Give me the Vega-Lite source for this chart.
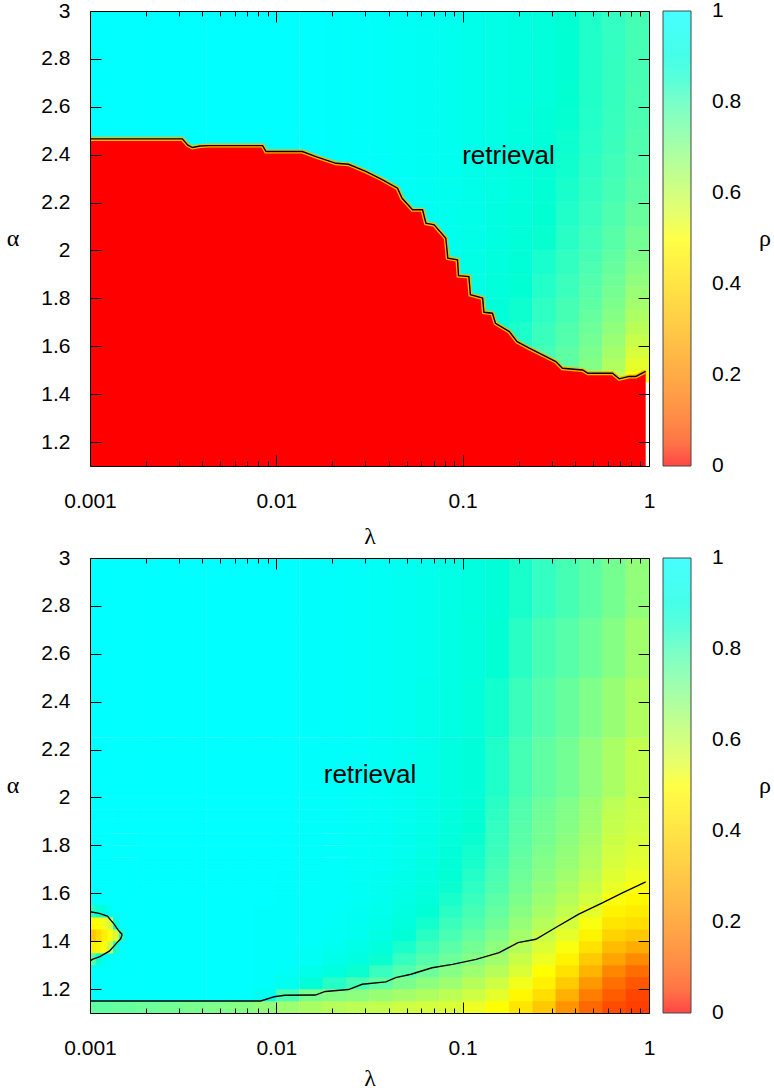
{
"$schema":"https://vega.github.io/schema/vega-lite/v6.json",
"padding":{"left":6,"top":0,"right":0,"bottom":0},
"background":"white",
"bounds":"flush",
"spacing":92,
"config":{
 "view":{"stroke":null},
 "axis":{"zindex":1,"grid":false,"domain":false,"domainColor":"black","domainWidth":1,"tickColor":"black","tickWidth":1,"labelFont":"Liberation Sans","labelFontSize":21,"labelColor":"black","titleFont":"Liberation Serif","titleFontSize":24,"titleFontWeight":"normal","titleColor":"black","labelFlush":false,"labelOverlap":false}
},
"datasets":{
"t":[
{"x":0.00115,"y":2.45,"v":1},{"x":0.00115,"y":2.55,"v":1},{"x":0.00115,"y":2.65,"v":1},{"x":0.00115,"y":2.75,"v":1},{"x":0.00115,"y":2.85,"v":1},{"x":0.00115,"y":2.95,"v":1},
{"x":0.00154,"y":2.45,"v":1},{"x":0.00154,"y":2.55,"v":1},{"x":0.00154,"y":2.65,"v":1},{"x":0.00154,"y":2.75,"v":1},{"x":0.00154,"y":2.85,"v":1},{"x":0.00154,"y":2.95,"v":1},
{"x":0.00205,"y":2.45,"v":1},{"x":0.00205,"y":2.55,"v":1},{"x":0.00205,"y":2.65,"v":1},{"x":0.00205,"y":2.75,"v":1},{"x":0.00205,"y":2.85,"v":1},{"x":0.00205,"y":2.95,"v":1},
{"x":0.00274,"y":2.45,"v":1},{"x":0.00274,"y":2.55,"v":1},{"x":0.00274,"y":2.65,"v":1},{"x":0.00274,"y":2.75,"v":1},{"x":0.00274,"y":2.85,"v":1},{"x":0.00274,"y":2.95,"v":1},
{"x":0.00365,"y":2.45,"v":1},{"x":0.00365,"y":2.55,"v":1},{"x":0.00365,"y":2.65,"v":1},{"x":0.00365,"y":2.75,"v":1},{"x":0.00365,"y":2.85,"v":1},{"x":0.00365,"y":2.95,"v":1},
{"x":0.00487,"y":2.45,"v":1},{"x":0.00487,"y":2.55,"v":1},{"x":0.00487,"y":2.65,"v":1},{"x":0.00487,"y":2.75,"v":1},{"x":0.00487,"y":2.85,"v":1},{"x":0.00487,"y":2.95,"v":1},
{"x":0.00649,"y":2.45,"v":1},{"x":0.00649,"y":2.55,"v":1},{"x":0.00649,"y":2.65,"v":1},{"x":0.00649,"y":2.75,"v":1},{"x":0.00649,"y":2.85,"v":1},{"x":0.00649,"y":2.95,"v":1},
{"x":0.00866,"y":2.45,"v":1},{"x":0.00866,"y":2.55,"v":1},{"x":0.00866,"y":2.65,"v":1},{"x":0.00866,"y":2.75,"v":1},{"x":0.00866,"y":2.85,"v":1},{"x":0.00866,"y":2.95,"v":1},
{"x":0.0115,"y":2.45,"v":1},{"x":0.0115,"y":2.55,"v":1},{"x":0.0115,"y":2.65,"v":1},{"x":0.0115,"y":2.75,"v":1},{"x":0.0115,"y":2.85,"v":1},{"x":0.0115,"y":2.95,"v":1},
{"x":0.0154,"y":2.35,"v":1},{"x":0.0154,"y":2.45,"v":1},{"x":0.0154,"y":2.55,"v":1},{"x":0.0154,"y":2.65,"v":1},{"x":0.0154,"y":2.75,"v":1},{"x":0.0154,"y":2.85,"v":1},{"x":0.0154,"y":2.95,"v":1},
{"x":0.0205,"y":2.35,"v":0.99},{"x":0.0205,"y":2.45,"v":0.99},{"x":0.0205,"y":2.55,"v":0.99},{"x":0.0205,"y":2.65,"v":0.99},{"x":0.0205,"y":2.75,"v":0.99},{"x":0.0205,"y":2.85,"v":0.99},{"x":0.0205,"y":2.95,"v":0.99},
{"x":0.0274,"y":2.35,"v":0.98},{"x":0.0274,"y":2.45,"v":0.98},{"x":0.0274,"y":2.55,"v":0.98},{"x":0.0274,"y":2.65,"v":0.98},{"x":0.0274,"y":2.75,"v":0.98},{"x":0.0274,"y":2.85,"v":0.98},{"x":0.0274,"y":2.95,"v":0.98},
{"x":0.0365,"y":2.25,"v":0.975},{"x":0.0365,"y":2.35,"v":0.975},{"x":0.0365,"y":2.45,"v":0.975},{"x":0.0365,"y":2.55,"v":0.975},{"x":0.0365,"y":2.65,"v":0.975},{"x":0.0365,"y":2.75,"v":0.975},{"x":0.0365,"y":2.85,"v":0.975},{"x":0.0365,"y":2.95,"v":0.975},
{"x":0.0487,"y":2.15,"v":0.965},{"x":0.0487,"y":2.25,"v":0.965},{"x":0.0487,"y":2.35,"v":0.965},{"x":0.0487,"y":2.45,"v":0.965},{"x":0.0487,"y":2.55,"v":0.965},{"x":0.0487,"y":2.65,"v":0.965},{"x":0.0487,"y":2.75,"v":0.965},{"x":0.0487,"y":2.85,"v":0.965},{"x":0.0487,"y":2.95,"v":0.965},
{"x":0.0649,"y":2.05,"v":0.95},{"x":0.0649,"y":2.15,"v":0.952},{"x":0.0649,"y":2.25,"v":0.955},{"x":0.0649,"y":2.35,"v":0.955},{"x":0.0649,"y":2.45,"v":0.955},{"x":0.0649,"y":2.55,"v":0.955},{"x":0.0649,"y":2.65,"v":0.955},{"x":0.0649,"y":2.75,"v":0.955},{"x":0.0649,"y":2.85,"v":0.955},{"x":0.0649,"y":2.95,"v":0.955},
{"x":0.0866,"y":1.85,"v":0.931},{"x":0.0866,"y":1.95,"v":0.934},{"x":0.0866,"y":2.05,"v":0.937},{"x":0.0866,"y":2.15,"v":0.939},{"x":0.0866,"y":2.25,"v":0.941},{"x":0.0866,"y":2.35,"v":0.942},{"x":0.0866,"y":2.45,"v":0.943},{"x":0.0866,"y":2.55,"v":0.945},{"x":0.0866,"y":2.65,"v":0.945},{"x":0.0866,"y":2.75,"v":0.945},{"x":0.0866,"y":2.85,"v":0.945},{"x":0.0866,"y":2.95,"v":0.945},
{"x":0.115,"y":1.75,"v":0.904},{"x":0.115,"y":1.85,"v":0.91},{"x":0.115,"y":1.95,"v":0.914},{"x":0.115,"y":2.05,"v":0.918},{"x":0.115,"y":2.15,"v":0.922},{"x":0.115,"y":2.25,"v":0.924},{"x":0.115,"y":2.35,"v":0.926},{"x":0.115,"y":2.45,"v":0.928},{"x":0.115,"y":2.55,"v":0.93},{"x":0.115,"y":2.65,"v":0.93},{"x":0.115,"y":2.75,"v":0.93},{"x":0.115,"y":2.85,"v":0.93},{"x":0.115,"y":2.95,"v":0.93},
{"x":0.154,"y":1.65,"v":0.872},{"x":0.154,"y":1.75,"v":0.881},{"x":0.154,"y":1.85,"v":0.888},{"x":0.154,"y":1.95,"v":0.895},{"x":0.154,"y":2.05,"v":0.9},{"x":0.154,"y":2.15,"v":0.904},{"x":0.154,"y":2.25,"v":0.908},{"x":0.154,"y":2.35,"v":0.91},{"x":0.154,"y":2.45,"v":0.912},{"x":0.154,"y":2.55,"v":0.913},{"x":0.154,"y":2.65,"v":0.915},{"x":0.154,"y":2.75,"v":0.915},{"x":0.154,"y":2.85,"v":0.915},{"x":0.154,"y":2.95,"v":0.915},
{"x":0.205,"y":1.55,"v":0.835},{"x":0.205,"y":1.65,"v":0.847},{"x":0.205,"y":1.75,"v":0.858},{"x":0.205,"y":1.85,"v":0.867},{"x":0.205,"y":1.95,"v":0.875},{"x":0.205,"y":2.05,"v":0.882},{"x":0.205,"y":2.15,"v":0.887},{"x":0.205,"y":2.25,"v":0.891},{"x":0.205,"y":2.35,"v":0.894},{"x":0.205,"y":2.45,"v":0.896},{"x":0.205,"y":2.55,"v":0.898},{"x":0.205,"y":2.65,"v":0.9},{"x":0.205,"y":2.75,"v":0.9},{"x":0.205,"y":2.85,"v":0.9},{"x":0.205,"y":2.95,"v":0.9},
{"x":0.274,"y":1.55,"v":0.799},{"x":0.274,"y":1.65,"v":0.816},{"x":0.274,"y":1.75,"v":0.83},{"x":0.274,"y":1.85,"v":0.842},{"x":0.274,"y":1.95,"v":0.852},{"x":0.274,"y":2.05,"v":0.861},{"x":0.274,"y":2.15,"v":0.868},{"x":0.274,"y":2.25,"v":0.873},{"x":0.274,"y":2.35,"v":0.877},{"x":0.274,"y":2.45,"v":0.88},{"x":0.274,"y":2.55,"v":0.882},{"x":0.274,"y":2.65,"v":0.884},{"x":0.274,"y":2.75,"v":0.885},{"x":0.274,"y":2.85,"v":0.885},{"x":0.274,"y":2.95,"v":0.885},
{"x":0.365,"y":1.55,"v":0.763},{"x":0.365,"y":1.65,"v":0.782},{"x":0.365,"y":1.75,"v":0.8},{"x":0.365,"y":1.85,"v":0.814},{"x":0.365,"y":1.95,"v":0.826},{"x":0.365,"y":2.05,"v":0.836},{"x":0.365,"y":2.15,"v":0.844},{"x":0.365,"y":2.25,"v":0.851},{"x":0.365,"y":2.35,"v":0.856},{"x":0.365,"y":2.45,"v":0.859},{"x":0.365,"y":2.55,"v":0.862},{"x":0.365,"y":2.65,"v":0.863},{"x":0.365,"y":2.75,"v":0.865},{"x":0.365,"y":2.85,"v":0.865},{"x":0.365,"y":2.95,"v":0.865},
{"x":0.487,"y":2.05,"v":0.807},{"x":0.487,"y":2.15,"v":0.818},{"x":0.487,"y":2.25,"v":0.826},{"x":0.487,"y":2.35,"v":0.833},{"x":0.487,"y":2.45,"v":0.838},{"x":0.487,"y":2.55,"v":0.841},{"x":0.487,"y":2.65,"v":0.843},{"x":0.487,"y":2.75,"v":0.844},{"x":0.487,"y":2.85,"v":0.845},{"x":0.487,"y":2.95,"v":0.845},
{"x":0.649,"y":2.05,"v":0.773},{"x":0.649,"y":2.15,"v":0.788},{"x":0.649,"y":2.25,"v":0.8},{"x":0.649,"y":2.35,"v":0.808},{"x":0.649,"y":2.45,"v":0.815},{"x":0.649,"y":2.55,"v":0.819},{"x":0.649,"y":2.65,"v":0.822},{"x":0.649,"y":2.75,"v":0.824},{"x":0.649,"y":2.85,"v":0.825},{"x":0.649,"y":2.95,"v":0.825},
{"x":0.866,"y":2.05,"v":0.731},{"x":0.866,"y":2.15,"v":0.75},{"x":0.866,"y":2.25,"v":0.766},{"x":0.866,"y":2.35,"v":0.778},{"x":0.866,"y":2.45,"v":0.786},{"x":0.866,"y":2.55,"v":0.792},{"x":0.866,"y":2.65,"v":0.796},{"x":0.866,"y":2.75,"v":0.799},{"x":0.866,"y":2.85,"v":0.8},{"x":0.866,"y":2.95,"v":0.8}
],
"tf":[
{"x":0.487,"y":1.475,"v":0.688},{"x":0.487,"y":1.525,"v":0.703},{"x":0.487,"y":1.575,"v":0.717},{"x":0.487,"y":1.625,"v":0.73},{"x":0.487,"y":1.675,"v":0.742},{"x":0.487,"y":1.725,"v":0.753},{"x":0.487,"y":1.775,"v":0.763},{"x":0.487,"y":1.825,"v":0.773},{"x":0.487,"y":1.875,"v":0.782},{"x":0.487,"y":1.925,"v":0.79},{"x":0.487,"y":1.975,"v":0.797},
{"x":0.649,"y":1.475,"v":0.611},{"x":0.649,"y":1.525,"v":0.631},{"x":0.649,"y":1.575,"v":0.65},{"x":0.649,"y":1.625,"v":0.668},{"x":0.649,"y":1.675,"v":0.684},{"x":0.649,"y":1.725,"v":0.7},{"x":0.649,"y":1.775,"v":0.714},{"x":0.649,"y":1.825,"v":0.727},{"x":0.649,"y":1.875,"v":0.739},{"x":0.649,"y":1.925,"v":0.75},{"x":0.649,"y":1.975,"v":0.76},
{"x":0.866,"y":1.475,"v":0.514},{"x":0.866,"y":1.525,"v":0.541},{"x":0.866,"y":1.575,"v":0.567},{"x":0.866,"y":1.625,"v":0.591},{"x":0.866,"y":1.675,"v":0.613},{"x":0.866,"y":1.725,"v":0.633},{"x":0.866,"y":1.775,"v":0.652},{"x":0.866,"y":1.825,"v":0.669},{"x":0.866,"y":1.875,"v":0.685},{"x":0.866,"y":1.925,"v":0.7},{"x":0.866,"y":1.975,"v":0.713}
],
"tc":[
{"x":0.001,"y":2.466},{"x":0.00313,"y":2.466},{"x":0.00335,"y":2.44},{"x":0.00355,"y":2.43},{"x":0.0039,"y":2.436},{"x":0.00437,"y":2.438},{"x":0.00844,"y":2.438},{"x":0.0088,"y":2.413},{"x":0.0138,"y":2.413},{"x":0.0163,"y":2.392},{"x":0.0209,"y":2.364},{"x":0.0244,"y":2.36},{"x":0.0302,"y":2.33},{"x":0.0372,"y":2.295},{"x":0.0447,"y":2.26},{"x":0.0473,"y":2.218},{"x":0.0538,"y":2.17},{"x":0.0609,"y":2.17},{"x":0.0635,"y":2.114},{"x":0.0703,"y":2.107},{"x":0.0812,"y":2.051},{"x":0.0832,"y":1.968},{"x":0.0938,"y":1.961},{"x":0.095,"y":1.895},{"x":0.108,"y":1.891},{"x":0.11,"y":1.815},{"x":0.128,"y":1.801},{"x":0.13,"y":1.742},{"x":0.1445,"y":1.738},{"x":0.15,"y":1.696},{"x":0.178,"y":1.661},{"x":0.196,"y":1.619},{"x":0.2276,"y":1.592},{"x":0.316,"y":1.536},{"x":0.343,"y":1.508},{"x":0.44,"y":1.501},{"x":0.47,"y":1.487},{"x":0.637,"y":1.487},{"x":0.692,"y":1.464},{"x":0.782,"y":1.474},{"x":0.85,"y":1.474},{"x":0.942,"y":1.492},{"x":0.96,"y":1.495}
],
"bf":[
{"x":0.00115,"y":1.125,"v":0.76},{"x":0.00115,"y":1.175,"v":1},{"x":0.00115,"y":1.225,"v":1},{"x":0.00115,"y":1.275,"v":1},{"x":0.00115,"y":1.325,"v":0.84},{"x":0.00115,"y":1.375,"v":0.52},{"x":0.00115,"y":1.425,"v":0.43},{"x":0.00115,"y":1.475,"v":0.5},{"x":0.00115,"y":1.525,"v":0.85},{"x":0.00115,"y":1.575,"v":1},{"x":0.00115,"y":1.625,"v":1},{"x":0.00115,"y":1.675,"v":1},{"x":0.00115,"y":1.725,"v":1},{"x":0.00115,"y":1.775,"v":1},{"x":0.00115,"y":1.825,"v":1},{"x":0.00115,"y":1.875,"v":1},{"x":0.00115,"y":1.925,"v":1},{"x":0.00115,"y":1.975,"v":1},
{"x":0.00154,"y":1.125,"v":0.75},{"x":0.00154,"y":1.175,"v":1},{"x":0.00154,"y":1.225,"v":1},{"x":0.00154,"y":1.275,"v":1},{"x":0.00154,"y":1.325,"v":1},{"x":0.00154,"y":1.375,"v":1},{"x":0.00154,"y":1.425,"v":1},{"x":0.00154,"y":1.475,"v":1},{"x":0.00154,"y":1.525,"v":1},{"x":0.00154,"y":1.575,"v":1},{"x":0.00154,"y":1.625,"v":1},{"x":0.00154,"y":1.675,"v":1},{"x":0.00154,"y":1.725,"v":1},{"x":0.00154,"y":1.775,"v":1},{"x":0.00154,"y":1.825,"v":1},{"x":0.00154,"y":1.875,"v":1},{"x":0.00154,"y":1.925,"v":1},{"x":0.00154,"y":1.975,"v":1},
{"x":0.00205,"y":1.125,"v":0.74},{"x":0.00205,"y":1.175,"v":1},{"x":0.00205,"y":1.225,"v":1},{"x":0.00205,"y":1.275,"v":1},{"x":0.00205,"y":1.325,"v":1},{"x":0.00205,"y":1.375,"v":1},{"x":0.00205,"y":1.425,"v":1},{"x":0.00205,"y":1.475,"v":1},{"x":0.00205,"y":1.525,"v":1},{"x":0.00205,"y":1.575,"v":1},{"x":0.00205,"y":1.625,"v":1},{"x":0.00205,"y":1.675,"v":1},{"x":0.00205,"y":1.725,"v":1},{"x":0.00205,"y":1.775,"v":1},{"x":0.00205,"y":1.825,"v":1},{"x":0.00205,"y":1.875,"v":1},{"x":0.00205,"y":1.925,"v":1},{"x":0.00205,"y":1.975,"v":1},
{"x":0.00274,"y":1.125,"v":0.73},{"x":0.00274,"y":1.175,"v":1},{"x":0.00274,"y":1.225,"v":1},{"x":0.00274,"y":1.275,"v":1},{"x":0.00274,"y":1.325,"v":1},{"x":0.00274,"y":1.375,"v":1},{"x":0.00274,"y":1.425,"v":1},{"x":0.00274,"y":1.475,"v":1},{"x":0.00274,"y":1.525,"v":1},{"x":0.00274,"y":1.575,"v":1},{"x":0.00274,"y":1.625,"v":1},{"x":0.00274,"y":1.675,"v":1},{"x":0.00274,"y":1.725,"v":1},{"x":0.00274,"y":1.775,"v":1},{"x":0.00274,"y":1.825,"v":1},{"x":0.00274,"y":1.875,"v":1},{"x":0.00274,"y":1.925,"v":1},{"x":0.00274,"y":1.975,"v":1},
{"x":0.00365,"y":1.125,"v":0.72},{"x":0.00365,"y":1.175,"v":1},{"x":0.00365,"y":1.225,"v":1},{"x":0.00365,"y":1.275,"v":1},{"x":0.00365,"y":1.325,"v":1},{"x":0.00365,"y":1.375,"v":1},{"x":0.00365,"y":1.425,"v":1},{"x":0.00365,"y":1.475,"v":1},{"x":0.00365,"y":1.525,"v":1},{"x":0.00365,"y":1.575,"v":1},{"x":0.00365,"y":1.625,"v":1},{"x":0.00365,"y":1.675,"v":1},{"x":0.00365,"y":1.725,"v":1},{"x":0.00365,"y":1.775,"v":1},{"x":0.00365,"y":1.825,"v":1},{"x":0.00365,"y":1.875,"v":1},{"x":0.00365,"y":1.925,"v":1},{"x":0.00365,"y":1.975,"v":1},
{"x":0.00487,"y":1.125,"v":0.71},{"x":0.00487,"y":1.175,"v":1},{"x":0.00487,"y":1.225,"v":1},{"x":0.00487,"y":1.275,"v":1},{"x":0.00487,"y":1.325,"v":1},{"x":0.00487,"y":1.375,"v":1},{"x":0.00487,"y":1.425,"v":1},{"x":0.00487,"y":1.475,"v":1},{"x":0.00487,"y":1.525,"v":1},{"x":0.00487,"y":1.575,"v":1},{"x":0.00487,"y":1.625,"v":1},{"x":0.00487,"y":1.675,"v":1},{"x":0.00487,"y":1.725,"v":1},{"x":0.00487,"y":1.775,"v":1},{"x":0.00487,"y":1.825,"v":1},{"x":0.00487,"y":1.875,"v":1},{"x":0.00487,"y":1.925,"v":1},{"x":0.00487,"y":1.975,"v":1},
{"x":0.00649,"y":1.125,"v":0.7},{"x":0.00649,"y":1.175,"v":1},{"x":0.00649,"y":1.225,"v":1},{"x":0.00649,"y":1.275,"v":1},{"x":0.00649,"y":1.325,"v":1},{"x":0.00649,"y":1.375,"v":1},{"x":0.00649,"y":1.425,"v":1},{"x":0.00649,"y":1.475,"v":1},{"x":0.00649,"y":1.525,"v":1},{"x":0.00649,"y":1.575,"v":1},{"x":0.00649,"y":1.625,"v":1},{"x":0.00649,"y":1.675,"v":1},{"x":0.00649,"y":1.725,"v":1},{"x":0.00649,"y":1.775,"v":1},{"x":0.00649,"y":1.825,"v":1},{"x":0.00649,"y":1.875,"v":1},{"x":0.00649,"y":1.925,"v":1},{"x":0.00649,"y":1.975,"v":1},
{"x":0.00866,"y":1.125,"v":0.68},{"x":0.00866,"y":1.175,"v":0.95},{"x":0.00866,"y":1.225,"v":0.98},{"x":0.00866,"y":1.275,"v":0.99},{"x":0.00866,"y":1.325,"v":0.99},{"x":0.00866,"y":1.375,"v":0.99},{"x":0.00866,"y":1.425,"v":0.99},{"x":0.00866,"y":1.475,"v":0.99},{"x":0.00866,"y":1.525,"v":0.99},{"x":0.00866,"y":1.575,"v":1},{"x":0.00866,"y":1.625,"v":1},{"x":0.00866,"y":1.675,"v":1},{"x":0.00866,"y":1.725,"v":1},{"x":0.00866,"y":1.775,"v":1},{"x":0.00866,"y":1.825,"v":1},{"x":0.00866,"y":1.875,"v":1},{"x":0.00866,"y":1.925,"v":1},{"x":0.00866,"y":1.975,"v":1},
{"x":0.0115,"y":1.125,"v":0.66},{"x":0.0115,"y":1.175,"v":0.8},{"x":0.0115,"y":1.225,"v":0.95},{"x":0.0115,"y":1.275,"v":0.97},{"x":0.0115,"y":1.325,"v":0.98},{"x":0.0115,"y":1.375,"v":0.99},{"x":0.0115,"y":1.425,"v":0.99},{"x":0.0115,"y":1.475,"v":0.99},{"x":0.0115,"y":1.525,"v":0.99},{"x":0.0115,"y":1.575,"v":0.99},{"x":0.0115,"y":1.625,"v":0.99},{"x":0.0115,"y":1.675,"v":0.99},{"x":0.0115,"y":1.725,"v":1},{"x":0.0115,"y":1.775,"v":1},{"x":0.0115,"y":1.825,"v":1},{"x":0.0115,"y":1.875,"v":1},{"x":0.0115,"y":1.925,"v":1},{"x":0.0115,"y":1.975,"v":1},
{"x":0.0154,"y":1.125,"v":0.64},{"x":0.0154,"y":1.175,"v":0.72},{"x":0.0154,"y":1.225,"v":0.88},{"x":0.0154,"y":1.275,"v":0.93},{"x":0.0154,"y":1.325,"v":0.96},{"x":0.0154,"y":1.375,"v":0.97},{"x":0.0154,"y":1.425,"v":0.98},{"x":0.0154,"y":1.475,"v":0.985},{"x":0.0154,"y":1.525,"v":0.985},{"x":0.0154,"y":1.575,"v":0.985},{"x":0.0154,"y":1.625,"v":0.985},{"x":0.0154,"y":1.675,"v":0.985},{"x":0.0154,"y":1.725,"v":0.985},{"x":0.0154,"y":1.775,"v":0.985},{"x":0.0154,"y":1.825,"v":0.985},{"x":0.0154,"y":1.875,"v":0.985},{"x":0.0154,"y":1.925,"v":0.985},{"x":0.0154,"y":1.975,"v":0.985},
{"x":0.0205,"y":1.125,"v":0.62},{"x":0.0205,"y":1.175,"v":0.7},{"x":0.0205,"y":1.225,"v":0.84},{"x":0.0205,"y":1.275,"v":0.9},{"x":0.0205,"y":1.325,"v":0.93},{"x":0.0205,"y":1.375,"v":0.95},{"x":0.0205,"y":1.425,"v":0.96},{"x":0.0205,"y":1.475,"v":0.97},{"x":0.0205,"y":1.525,"v":0.975},{"x":0.0205,"y":1.575,"v":0.98},{"x":0.0205,"y":1.625,"v":0.98},{"x":0.0205,"y":1.675,"v":0.98},{"x":0.0205,"y":1.725,"v":0.98},{"x":0.0205,"y":1.775,"v":0.98},{"x":0.0205,"y":1.825,"v":0.98},{"x":0.0205,"y":1.875,"v":0.98},{"x":0.0205,"y":1.925,"v":0.98},{"x":0.0205,"y":1.975,"v":0.98},
{"x":0.0274,"y":1.125,"v":0.61},{"x":0.0274,"y":1.175,"v":0.69},{"x":0.0274,"y":1.225,"v":0.8},{"x":0.0274,"y":1.275,"v":0.86},{"x":0.0274,"y":1.325,"v":0.9},{"x":0.0274,"y":1.375,"v":0.92},{"x":0.0274,"y":1.425,"v":0.94},{"x":0.0274,"y":1.475,"v":0.95},{"x":0.0274,"y":1.525,"v":0.955},{"x":0.0274,"y":1.575,"v":0.96},{"x":0.0274,"y":1.625,"v":0.965},{"x":0.0274,"y":1.675,"v":0.97},{"x":0.0274,"y":1.725,"v":0.97},{"x":0.0274,"y":1.775,"v":0.97},{"x":0.0274,"y":1.825,"v":0.97},{"x":0.0274,"y":1.875,"v":0.97},{"x":0.0274,"y":1.925,"v":0.97},{"x":0.0274,"y":1.975,"v":0.97},
{"x":0.0365,"y":1.125,"v":0.6},{"x":0.0365,"y":1.175,"v":0.67},{"x":0.0365,"y":1.225,"v":0.76},{"x":0.0365,"y":1.275,"v":0.82},{"x":0.0365,"y":1.325,"v":0.86},{"x":0.0365,"y":1.375,"v":0.89},{"x":0.0365,"y":1.425,"v":0.91},{"x":0.0365,"y":1.475,"v":0.925},{"x":0.0365,"y":1.525,"v":0.935},{"x":0.0365,"y":1.575,"v":0.945},{"x":0.0365,"y":1.625,"v":0.95},{"x":0.0365,"y":1.675,"v":0.955},{"x":0.0365,"y":1.725,"v":0.96},{"x":0.0365,"y":1.775,"v":0.96},{"x":0.0365,"y":1.825,"v":0.96},{"x":0.0365,"y":1.875,"v":0.96},{"x":0.0365,"y":1.925,"v":0.96},{"x":0.0365,"y":1.975,"v":0.96},
{"x":0.0487,"y":1.125,"v":0.58},{"x":0.0487,"y":1.175,"v":0.65},{"x":0.0487,"y":1.225,"v":0.72},{"x":0.0487,"y":1.275,"v":0.78},{"x":0.0487,"y":1.325,"v":0.82},{"x":0.0487,"y":1.375,"v":0.85},{"x":0.0487,"y":1.425,"v":0.875},{"x":0.0487,"y":1.475,"v":0.89},{"x":0.0487,"y":1.525,"v":0.905},{"x":0.0487,"y":1.575,"v":0.915},{"x":0.0487,"y":1.625,"v":0.925},{"x":0.0487,"y":1.675,"v":0.93},{"x":0.0487,"y":1.725,"v":0.935},{"x":0.0487,"y":1.775,"v":0.94},{"x":0.0487,"y":1.825,"v":0.942},{"x":0.0487,"y":1.875,"v":0.944},{"x":0.0487,"y":1.925,"v":0.946},{"x":0.0487,"y":1.975,"v":0.948},
{"x":0.0649,"y":1.125,"v":0.57},{"x":0.0649,"y":1.175,"v":0.63},{"x":0.0649,"y":1.225,"v":0.69},{"x":0.0649,"y":1.275,"v":0.74},{"x":0.0649,"y":1.325,"v":0.78},{"x":0.0649,"y":1.375,"v":0.81},{"x":0.0649,"y":1.425,"v":0.835},{"x":0.0649,"y":1.475,"v":0.855},{"x":0.0649,"y":1.525,"v":0.87},{"x":0.0649,"y":1.575,"v":0.885},{"x":0.0649,"y":1.625,"v":0.895},{"x":0.0649,"y":1.675,"v":0.905},{"x":0.0649,"y":1.725,"v":0.91},{"x":0.0649,"y":1.775,"v":0.915},{"x":0.0649,"y":1.825,"v":0.92},{"x":0.0649,"y":1.875,"v":0.922},{"x":0.0649,"y":1.925,"v":0.925},{"x":0.0649,"y":1.975,"v":0.927},
{"x":0.0866,"y":1.125,"v":0.56},{"x":0.0866,"y":1.175,"v":0.61},{"x":0.0866,"y":1.225,"v":0.66},{"x":0.0866,"y":1.275,"v":0.7},{"x":0.0866,"y":1.325,"v":0.74},{"x":0.0866,"y":1.375,"v":0.77},{"x":0.0866,"y":1.425,"v":0.795},{"x":0.0866,"y":1.475,"v":0.815},{"x":0.0866,"y":1.525,"v":0.835},{"x":0.0866,"y":1.575,"v":0.85},{"x":0.0866,"y":1.625,"v":0.86},{"x":0.0866,"y":1.675,"v":0.87},{"x":0.0866,"y":1.725,"v":0.875},{"x":0.0866,"y":1.775,"v":0.88},{"x":0.0866,"y":1.825,"v":0.885},{"x":0.0866,"y":1.875,"v":0.89},{"x":0.0866,"y":1.925,"v":0.895},{"x":0.0866,"y":1.975,"v":0.9},
{"x":0.115,"y":1.125,"v":0.53},{"x":0.115,"y":1.175,"v":0.58},{"x":0.115,"y":1.225,"v":0.62},{"x":0.115,"y":1.275,"v":0.66},{"x":0.115,"y":1.325,"v":0.7},{"x":0.115,"y":1.375,"v":0.73},{"x":0.115,"y":1.425,"v":0.755},{"x":0.115,"y":1.475,"v":0.78},{"x":0.115,"y":1.525,"v":0.8},{"x":0.115,"y":1.575,"v":0.815},{"x":0.115,"y":1.625,"v":0.83},{"x":0.115,"y":1.675,"v":0.84},{"x":0.115,"y":1.725,"v":0.85},{"x":0.115,"y":1.775,"v":0.855},{"x":0.115,"y":1.825,"v":0.86},{"x":0.115,"y":1.875,"v":0.865},{"x":0.115,"y":1.925,"v":0.87},{"x":0.115,"y":1.975,"v":0.875},
{"x":0.154,"y":1.125,"v":0.5},{"x":0.154,"y":1.175,"v":0.54},{"x":0.154,"y":1.225,"v":0.58},{"x":0.154,"y":1.275,"v":0.62},{"x":0.154,"y":1.325,"v":0.655},{"x":0.154,"y":1.375,"v":0.685},{"x":0.154,"y":1.425,"v":0.71},{"x":0.154,"y":1.475,"v":0.735},{"x":0.154,"y":1.525,"v":0.755},{"x":0.154,"y":1.575,"v":0.77},{"x":0.154,"y":1.625,"v":0.785},{"x":0.154,"y":1.675,"v":0.795},{"x":0.154,"y":1.725,"v":0.805},{"x":0.154,"y":1.775,"v":0.815},{"x":0.154,"y":1.825,"v":0.82},{"x":0.154,"y":1.875,"v":0.825},{"x":0.154,"y":1.925,"v":0.83},{"x":0.154,"y":1.975,"v":0.835},
{"x":0.205,"y":1.125,"v":0.43},{"x":0.205,"y":1.175,"v":0.48},{"x":0.205,"y":1.225,"v":0.52},{"x":0.205,"y":1.275,"v":0.56},{"x":0.205,"y":1.325,"v":0.59},{"x":0.205,"y":1.375,"v":0.62},{"x":0.205,"y":1.425,"v":0.65},{"x":0.205,"y":1.475,"v":0.675},{"x":0.205,"y":1.525,"v":0.695},{"x":0.205,"y":1.575,"v":0.715},{"x":0.205,"y":1.625,"v":0.73},{"x":0.205,"y":1.675,"v":0.74},{"x":0.205,"y":1.725,"v":0.75},{"x":0.205,"y":1.775,"v":0.76},{"x":0.205,"y":1.825,"v":0.77},{"x":0.205,"y":1.875,"v":0.775},{"x":0.205,"y":1.925,"v":0.78},{"x":0.205,"y":1.975,"v":0.785},
{"x":0.274,"y":1.125,"v":0.35},{"x":0.274,"y":1.175,"v":0.41},{"x":0.274,"y":1.225,"v":0.46},{"x":0.274,"y":1.275,"v":0.5},{"x":0.274,"y":1.325,"v":0.53},{"x":0.274,"y":1.375,"v":0.56},{"x":0.274,"y":1.425,"v":0.59},{"x":0.274,"y":1.475,"v":0.62},{"x":0.274,"y":1.525,"v":0.645},{"x":0.274,"y":1.575,"v":0.665},{"x":0.274,"y":1.625,"v":0.68},{"x":0.274,"y":1.675,"v":0.695},{"x":0.274,"y":1.725,"v":0.705},{"x":0.274,"y":1.775,"v":0.715},{"x":0.274,"y":1.825,"v":0.725},{"x":0.274,"y":1.875,"v":0.73},{"x":0.274,"y":1.925,"v":0.735},{"x":0.274,"y":1.975,"v":0.74},
{"x":0.365,"y":1.125,"v":0.22},{"x":0.365,"y":1.175,"v":0.29},{"x":0.365,"y":1.225,"v":0.36},{"x":0.365,"y":1.275,"v":0.42},{"x":0.365,"y":1.325,"v":0.47},{"x":0.365,"y":1.375,"v":0.51},{"x":0.365,"y":1.425,"v":0.54},{"x":0.365,"y":1.475,"v":0.57},{"x":0.365,"y":1.525,"v":0.6},{"x":0.365,"y":1.575,"v":0.62},{"x":0.365,"y":1.625,"v":0.64},{"x":0.365,"y":1.675,"v":0.655},{"x":0.365,"y":1.725,"v":0.67},{"x":0.365,"y":1.775,"v":0.68},{"x":0.365,"y":1.825,"v":0.69},{"x":0.365,"y":1.875,"v":0.7},{"x":0.365,"y":1.925,"v":0.705},{"x":0.365,"y":1.975,"v":0.71},
{"x":0.487,"y":1.125,"v":0.12},{"x":0.487,"y":1.175,"v":0.17},{"x":0.487,"y":1.225,"v":0.23},{"x":0.487,"y":1.275,"v":0.3},{"x":0.487,"y":1.325,"v":0.36},{"x":0.487,"y":1.375,"v":0.42},{"x":0.487,"y":1.425,"v":0.47},{"x":0.487,"y":1.475,"v":0.51},{"x":0.487,"y":1.525,"v":0.54},{"x":0.487,"y":1.575,"v":0.57},{"x":0.487,"y":1.625,"v":0.59},{"x":0.487,"y":1.675,"v":0.61},{"x":0.487,"y":1.725,"v":0.625},{"x":0.487,"y":1.775,"v":0.635},{"x":0.487,"y":1.825,"v":0.645},{"x":0.487,"y":1.875,"v":0.655},{"x":0.487,"y":1.925,"v":0.66},{"x":0.487,"y":1.975,"v":0.665},
{"x":0.649,"y":1.125,"v":0.07},{"x":0.649,"y":1.175,"v":0.1},{"x":0.649,"y":1.225,"v":0.14},{"x":0.649,"y":1.275,"v":0.19},{"x":0.649,"y":1.325,"v":0.26},{"x":0.649,"y":1.375,"v":0.32},{"x":0.649,"y":1.425,"v":0.38},{"x":0.649,"y":1.475,"v":0.43},{"x":0.649,"y":1.525,"v":0.47},{"x":0.649,"y":1.575,"v":0.51},{"x":0.649,"y":1.625,"v":0.535},{"x":0.649,"y":1.675,"v":0.55},{"x":0.649,"y":1.725,"v":0.565},{"x":0.649,"y":1.775,"v":0.575},{"x":0.649,"y":1.825,"v":0.585},{"x":0.649,"y":1.875,"v":0.595},{"x":0.649,"y":1.925,"v":0.6},{"x":0.649,"y":1.975,"v":0.61},
{"x":0.866,"y":1.125,"v":0.05},{"x":0.866,"y":1.175,"v":0.06},{"x":0.866,"y":1.225,"v":0.09},{"x":0.866,"y":1.275,"v":0.13},{"x":0.866,"y":1.325,"v":0.2},{"x":0.866,"y":1.375,"v":0.28},{"x":0.866,"y":1.425,"v":0.35},{"x":0.866,"y":1.475,"v":0.41},{"x":0.866,"y":1.525,"v":0.45},{"x":0.866,"y":1.575,"v":0.48},{"x":0.866,"y":1.625,"v":0.51},{"x":0.866,"y":1.675,"v":0.53},{"x":0.866,"y":1.725,"v":0.545},{"x":0.866,"y":1.775,"v":0.555},{"x":0.866,"y":1.825,"v":0.565},{"x":0.866,"y":1.875,"v":0.575},{"x":0.866,"y":1.925,"v":0.58},{"x":0.866,"y":1.975,"v":0.585}
],
"bk":[
{"x":0.00115,"y":2.125,"v":1},{"x":0.00115,"y":2.375,"v":1},{"x":0.00115,"y":2.625,"v":1},{"x":0.00115,"y":2.875,"v":1},
{"x":0.00154,"y":2.125,"v":1},{"x":0.00154,"y":2.375,"v":1},{"x":0.00154,"y":2.625,"v":1},{"x":0.00154,"y":2.875,"v":1},
{"x":0.00205,"y":2.125,"v":1},{"x":0.00205,"y":2.375,"v":1},{"x":0.00205,"y":2.625,"v":1},{"x":0.00205,"y":2.875,"v":1},
{"x":0.00274,"y":2.125,"v":1},{"x":0.00274,"y":2.375,"v":1},{"x":0.00274,"y":2.625,"v":1},{"x":0.00274,"y":2.875,"v":1},
{"x":0.00365,"y":2.125,"v":1},{"x":0.00365,"y":2.375,"v":1},{"x":0.00365,"y":2.625,"v":1},{"x":0.00365,"y":2.875,"v":1},
{"x":0.00487,"y":2.125,"v":1},{"x":0.00487,"y":2.375,"v":1},{"x":0.00487,"y":2.625,"v":1},{"x":0.00487,"y":2.875,"v":1},
{"x":0.00649,"y":2.125,"v":1},{"x":0.00649,"y":2.375,"v":1},{"x":0.00649,"y":2.625,"v":1},{"x":0.00649,"y":2.875,"v":1},
{"x":0.00866,"y":2.125,"v":1},{"x":0.00866,"y":2.375,"v":1},{"x":0.00866,"y":2.625,"v":1},{"x":0.00866,"y":2.875,"v":1},
{"x":0.0115,"y":2.125,"v":1},{"x":0.0115,"y":2.375,"v":1},{"x":0.0115,"y":2.625,"v":1},{"x":0.0115,"y":2.875,"v":1},
{"x":0.0154,"y":2.125,"v":0.99},{"x":0.0154,"y":2.375,"v":0.99},{"x":0.0154,"y":2.625,"v":0.99},{"x":0.0154,"y":2.875,"v":0.99},
{"x":0.0205,"y":2.125,"v":0.985},{"x":0.0205,"y":2.375,"v":0.985},{"x":0.0205,"y":2.625,"v":0.985},{"x":0.0205,"y":2.875,"v":0.985},
{"x":0.0274,"y":2.125,"v":0.975},{"x":0.0274,"y":2.375,"v":0.975},{"x":0.0274,"y":2.625,"v":0.975},{"x":0.0274,"y":2.875,"v":0.975},
{"x":0.0365,"y":2.125,"v":0.965},{"x":0.0365,"y":2.375,"v":0.965},{"x":0.0365,"y":2.625,"v":0.965},{"x":0.0365,"y":2.875,"v":0.965},
{"x":0.0487,"y":2.125,"v":0.95},{"x":0.0487,"y":2.375,"v":0.95},{"x":0.0487,"y":2.625,"v":0.95},{"x":0.0487,"y":2.875,"v":0.95},
{"x":0.0649,"y":2.125,"v":0.93},{"x":0.0649,"y":2.375,"v":0.932},{"x":0.0649,"y":2.625,"v":0.934},{"x":0.0649,"y":2.875,"v":0.935},
{"x":0.0866,"y":2.125,"v":0.905},{"x":0.0866,"y":2.375,"v":0.91},{"x":0.0866,"y":2.625,"v":0.912},{"x":0.0866,"y":2.875,"v":0.915},
{"x":0.115,"y":2.125,"v":0.88},{"x":0.115,"y":2.375,"v":0.885},{"x":0.115,"y":2.625,"v":0.89},{"x":0.115,"y":2.875,"v":0.895},
{"x":0.154,"y":2.125,"v":0.845},{"x":0.154,"y":2.375,"v":0.855},{"x":0.154,"y":2.625,"v":0.865},{"x":0.154,"y":2.875,"v":0.875},
{"x":0.205,"y":2.125,"v":0.8},{"x":0.205,"y":2.375,"v":0.815},{"x":0.205,"y":2.625,"v":0.835},{"x":0.205,"y":2.875,"v":0.85},
{"x":0.274,"y":2.125,"v":0.76},{"x":0.274,"y":2.375,"v":0.78},{"x":0.274,"y":2.625,"v":0.8},{"x":0.274,"y":2.875,"v":0.825},
{"x":0.365,"y":2.125,"v":0.73},{"x":0.365,"y":2.375,"v":0.75},{"x":0.365,"y":2.625,"v":0.775},{"x":0.365,"y":2.875,"v":0.8},
{"x":0.487,"y":2.125,"v":0.685},{"x":0.487,"y":2.375,"v":0.71},{"x":0.487,"y":2.625,"v":0.74},{"x":0.487,"y":2.875,"v":0.765},
{"x":0.649,"y":2.125,"v":0.64},{"x":0.649,"y":2.375,"v":0.67},{"x":0.649,"y":2.625,"v":0.7},{"x":0.649,"y":2.875,"v":0.725},
{"x":0.866,"y":2.125,"v":0.6},{"x":0.866,"y":2.375,"v":0.63},{"x":0.866,"y":2.625,"v":0.655},{"x":0.866,"y":2.875,"v":0.68}
],
"bb":[
{"x":0.001037,"y":1.325,"v":0.78},{"x":0.001114,"y":1.325,"v":0.86},{"x":0.001197,"y":1.325,"v":0.96},{"x":0.001286,"y":1.325,"v":1},{"x":0.001382,"y":1.325,"v":1},{"x":0.001485,"y":1.325,"v":1},{"x":0.001596,"y":1.325,"v":1},{"x":0.001715,"y":1.325,"v":1},
{"x":0.001037,"y":1.375,"v":0.46},{"x":0.001114,"y":1.375,"v":0.48},{"x":0.001197,"y":1.375,"v":0.51},{"x":0.001286,"y":1.375,"v":0.6},{"x":0.001382,"y":1.375,"v":0.85},{"x":0.001485,"y":1.375,"v":1},{"x":0.001596,"y":1.375,"v":1},{"x":0.001715,"y":1.375,"v":1},
{"x":0.001037,"y":1.425,"v":0.35},{"x":0.001114,"y":1.425,"v":0.4},{"x":0.001197,"y":1.425,"v":0.46},{"x":0.001286,"y":1.425,"v":0.51},{"x":0.001382,"y":1.425,"v":0.56},{"x":0.001485,"y":1.425,"v":0.84},{"x":0.001596,"y":1.425,"v":1},{"x":0.001715,"y":1.425,"v":1},
{"x":0.001037,"y":1.475,"v":0.49},{"x":0.001114,"y":1.475,"v":0.5},{"x":0.001197,"y":1.475,"v":0.53},{"x":0.001286,"y":1.475,"v":0.57},{"x":0.001382,"y":1.475,"v":0.9},{"x":0.001485,"y":1.475,"v":1},{"x":0.001596,"y":1.475,"v":1},{"x":0.001715,"y":1.475,"v":1},
{"x":0.001037,"y":1.525,"v":0.84},{"x":0.001114,"y":1.525,"v":0.86},{"x":0.001197,"y":1.525,"v":0.9},{"x":0.001286,"y":1.525,"v":0.96},{"x":0.001382,"y":1.525,"v":1},{"x":0.001485,"y":1.525,"v":1},{"x":0.001596,"y":1.525,"v":1},{"x":0.001715,"y":1.525,"v":1}
],
"bl":[
{"s":"m","x":0.001,"y":1.15},{"s":"m","x":0.00824,"y":1.15},{"s":"m","x":0.00974,"y":1.168},{"s":"m","x":0.0111,"y":1.174},{"s":"m","x":0.0162,"y":1.175},{"s":"m","x":0.0183,"y":1.19},{"s":"m","x":0.0244,"y":1.198},{"s":"m","x":0.0289,"y":1.22},{"s":"m","x":0.0387,"y":1.23},{"s":"m","x":0.0437,"y":1.248},{"s":"m","x":0.0528,"y":1.262},{"s":"m","x":0.0685,"y":1.289},{"s":"m","x":0.0882,"y":1.303},{"s":"m","x":0.118,"y":1.324},{"s":"m","x":0.157,"y":1.352},{"s":"m","x":0.198,"y":1.394},{"s":"m","x":0.247,"y":1.408},{"s":"m","x":0.316,"y":1.457},{"s":"m","x":0.42,"y":1.513},{"s":"m","x":0.562,"y":1.56},{"s":"m","x":0.72,"y":1.602},{"s":"m","x":0.942,"y":1.644},{"s":"m","x":0.96,"y":1.648},
{"s":"b1","x":0.001,"y":1.523},{"s":"b1","x":0.00112,"y":1.516},{"s":"b1","x":0.00124,"y":1.505},{"s":"b1","x":0.00135,"y":1.47},{"s":"b1","x":0.00142,"y":1.445},{"s":"b1","x":0.00149,"y":1.428},
{"s":"b2","x":0.00149,"y":1.428},{"s":"b2","x":0.00146,"y":1.41},{"s":"b2","x":0.00141,"y":1.397},{"s":"b2","x":0.00127,"y":1.358},{"s":"b2","x":0.00113,"y":1.335},{"s":"b2","x":0.00103,"y":1.324},{"s":"b2","x":0.001,"y":1.317}
]
},
"resolve":{"scale":{"color":"independent"}},
"vconcat":[
{
"width":559,"height":455,
"resolve":{"axis":{"x":"independent","y":"independent"}},
"layer":[
 {"data":{"name":"t"},"mark":{"type":"rect","width":23.8,"height":24.4,"clip":true},
  "encoding":{
   "x":{"field":"x","type":"quantitative","scale":{"type":"log","domain":[0.001,1],"nice":false},"axis":{"zindex":1,"orient":"bottom","values":[0.001,0.01,0.1,1],"format":"~g","ticks":false,"domain":true,"labelPadding":24,"title":"λ","titlePadding":13}},
   "y":{"field":"y","type":"quantitative","scale":{"domain":[1.1,3],"nice":false,"zero":false},"axis":{"zindex":1,"orient":"left","values":[1.2,1.4,1.6,1.8,2,2.2,2.4,2.6,2.8,3],"format":"~g","ticks":false,"domain":true,"labelPadding":20,"title":"α","titleAngle":0,"titleAlign":"right","titleBaseline":"middle","titlePadding":22}},
   "color":{"field":"v","type":"quantitative","scale":{"domain":[0,0.5,1],"range":["#ff0000","#ffff00","#00ffff"]},
    "legend":{"title":"ρ","orient":"right","direction":"vertical","offset":13,"padding":0,"gradientLength":455,"gradientThickness":28,"gradientStrokeColor":"black","gradientStrokeWidth":1,"values":[0,0.2,0.4,0.6,0.8,1],"format":"~g","labelFont":"Liberation Sans","labelFontSize":21,"labelColor":"black","labelOffset":21,"labelOverlap":false,"titleOrient":"right","titleFont":"Liberation Serif","titleFontSize":24,"titleFontWeight":"normal","titleColor":"black","titleAnchor":"middle","titleBaseline":"middle","titleAlign":"left","titlePadding":18,
     "encode":{"gradient":{"update":{"opacity":{"value":0.72}}},"labels":{"update":{"baseline":{"value":"middle"}}},"title":{"update":{"angle":{"value":0}}}}}}
  }},
 {"data":{"name":"tf"},"mark":{"type":"rect","width":23.8,"height":12.4,"clip":true},
  "encoding":{"x":{"field":"x","type":"quantitative","axis":null},"y":{"field":"y","type":"quantitative","axis":null},"color":{"field":"v","type":"quantitative"}}},
 {"data":{"name":"tc"},"mark":{"type":"area","color":"#ff0000","clip":true},
  "encoding":{"x":{"field":"x","type":"quantitative","axis":null},"y":{"field":"y","type":"quantitative","axis":null},"y2":{"datum":1.1}}},
 {"data":{"name":"tc"},"mark":{"type":"line","color":"#ffb400","strokeWidth":4,"clip":true},
  "encoding":{"x":{"field":"x","type":"quantitative","axis":null},"y":{"field":"y","type":"quantitative","axis":null}}},
 {"data":{"name":"tc"},"mark":{"type":"line","color":"black","strokeWidth":1.4,"clip":true},
  "encoding":{
   "x":{"field":"x","type":"quantitative","axis":{"zindex":1,"orient":"bottom","values":[0.001,0.002,0.003,0.004,0.005,0.006,0.007,0.008,0.009,0.01,0.02,0.03,0.04,0.05,0.06,0.07,0.08,0.09,0.1,0.2,0.3,0.4,0.5,0.6,0.7,0.8,0.9,1],"labels":false,"title":null,"tickSize":{"condition":{"test":"datum.value==0.001||datum.value==0.01||datum.value==0.1||datum.value==1","value":-11},"value":-5}}},
   "y":{"field":"y","type":"quantitative","axis":{"zindex":1,"orient":"left","values":[1.2,1.4,1.6,1.8,2,2.2,2.4,2.6,2.8],"labels":false,"title":null,"tickSize":-11}}}},
 {"data":{"values":[{"x":0.176,"y":2.395,"t":"retrieval"}]},"mark":{"type":"text","font":"Liberation Sans","fontSize":26,"color":"black","align":"center","baseline":"middle"},
  "encoding":{
   "x":{"field":"x","type":"quantitative","axis":{"zindex":1,"orient":"top","domain":true,"values":[0.001,0.002,0.003,0.004,0.005,0.006,0.007,0.008,0.009,0.01,0.02,0.03,0.04,0.05,0.06,0.07,0.08,0.09,0.1,0.2,0.3,0.4,0.5,0.6,0.7,0.8,0.9,1],"labels":false,"title":null,"tickSize":{"condition":{"test":"datum.value==0.001||datum.value==0.01||datum.value==0.1||datum.value==1","value":-11},"value":-5}}},
   "y":{"field":"y","type":"quantitative","axis":{"zindex":1,"orient":"right","domain":true,"values":[1.2,1.4,1.6,1.8,2,2.2,2.4,2.6,2.8],"labels":false,"title":null,"tickSize":-11}},
   "text":{"field":"t"}}}
]
},
{
"width":559,"height":455,
"resolve":{"axis":{"x":"independent","y":"independent"}},
"layer":[
 {"data":{"name":"bf"},"mark":{"type":"rect","width":23.8,"height":12.4,"clip":true},
  "encoding":{
   "x":{"field":"x","type":"quantitative","scale":{"type":"log","domain":[0.001,1],"nice":false},"axis":{"zindex":1,"orient":"bottom","values":[0.001,0.01,0.1,1],"format":"~g","ticks":false,"domain":true,"labelPadding":24,"title":"λ","titlePadding":8}},
   "y":{"field":"y","type":"quantitative","scale":{"domain":[1.1,3],"nice":false,"zero":false},"axis":{"zindex":1,"orient":"left","values":[1.2,1.4,1.6,1.8,2,2.2,2.4,2.6,2.8,3],"format":"~g","ticks":false,"domain":true,"labelPadding":20,"title":"α","titleAngle":0,"titleAlign":"right","titleBaseline":"middle","titlePadding":22}},
   "color":{"field":"v","type":"quantitative","scale":{"domain":[0,0.5,1],"range":["#ff0000","#ffff00","#00ffff"]},
    "legend":{"title":"ρ","orient":"right","direction":"vertical","offset":13,"padding":0,"gradientLength":455,"gradientThickness":28,"gradientStrokeColor":"black","gradientStrokeWidth":1,"values":[0,0.2,0.4,0.6,0.8,1],"format":"~g","labelFont":"Liberation Sans","labelFontSize":21,"labelColor":"black","labelOffset":21,"labelOverlap":false,"titleOrient":"right","titleFont":"Liberation Serif","titleFontSize":24,"titleFontWeight":"normal","titleColor":"black","titleAnchor":"middle","titleBaseline":"middle","titleAlign":"left","titlePadding":18,
     "encode":{"gradient":{"update":{"opacity":{"value":0.72}}},"labels":{"update":{"baseline":{"value":"middle"}}},"title":{"update":{"angle":{"value":0}}}}}}
  }},
 {"data":{"name":"bk"},"mark":{"type":"rect","width":23.8,"height":60.3,"clip":true},
  "encoding":{"x":{"field":"x","type":"quantitative","axis":null},"y":{"field":"y","type":"quantitative","axis":null},"color":{"field":"v","type":"quantitative"}}},
 {"data":{"name":"bb"},"mark":{"type":"rect","width":6.1,"height":12.4,"clip":true},
  "encoding":{"x":{"field":"x","type":"quantitative","axis":null},"y":{"field":"y","type":"quantitative","axis":null},"color":{"field":"v","type":"quantitative"}}},
 {"data":{"name":"bl"},"mark":{"type":"line","color":"black","strokeWidth":1.4,"clip":true},
  "encoding":{
   "x":{"field":"x","type":"quantitative","axis":{"zindex":1,"orient":"bottom","values":[0.001,0.002,0.003,0.004,0.005,0.006,0.007,0.008,0.009,0.01,0.02,0.03,0.04,0.05,0.06,0.07,0.08,0.09,0.1,0.2,0.3,0.4,0.5,0.6,0.7,0.8,0.9,1],"labels":false,"title":null,"tickSize":{"condition":{"test":"datum.value==0.001||datum.value==0.01||datum.value==0.1||datum.value==1","value":-11},"value":-5}}},
   "y":{"field":"y","type":"quantitative","axis":{"zindex":1,"orient":"left","values":[1.2,1.4,1.6,1.8,2,2.2,2.4,2.6,2.8],"labels":false,"title":null,"tickSize":-11}},
   "detail":{"field":"s"}}},
 {"data":{"values":[{"x":0.0318,"y":2.095,"t":"retrieval"}]},"mark":{"type":"text","font":"Liberation Sans","fontSize":26,"color":"black","align":"center","baseline":"middle"},
  "encoding":{
   "x":{"field":"x","type":"quantitative","axis":{"zindex":1,"orient":"top","domain":true,"values":[0.001,0.002,0.003,0.004,0.005,0.006,0.007,0.008,0.009,0.01,0.02,0.03,0.04,0.05,0.06,0.07,0.08,0.09,0.1,0.2,0.3,0.4,0.5,0.6,0.7,0.8,0.9,1],"labels":false,"title":null,"tickSize":{"condition":{"test":"datum.value==0.001||datum.value==0.01||datum.value==0.1||datum.value==1","value":-11},"value":-5}}},
   "y":{"field":"y","type":"quantitative","axis":{"zindex":1,"orient":"right","domain":true,"values":[1.2,1.4,1.6,1.8,2,2.2,2.4,2.6,2.8],"labels":false,"title":null,"tickSize":-11}},
   "text":{"field":"t"}}}
]
}
]
}
